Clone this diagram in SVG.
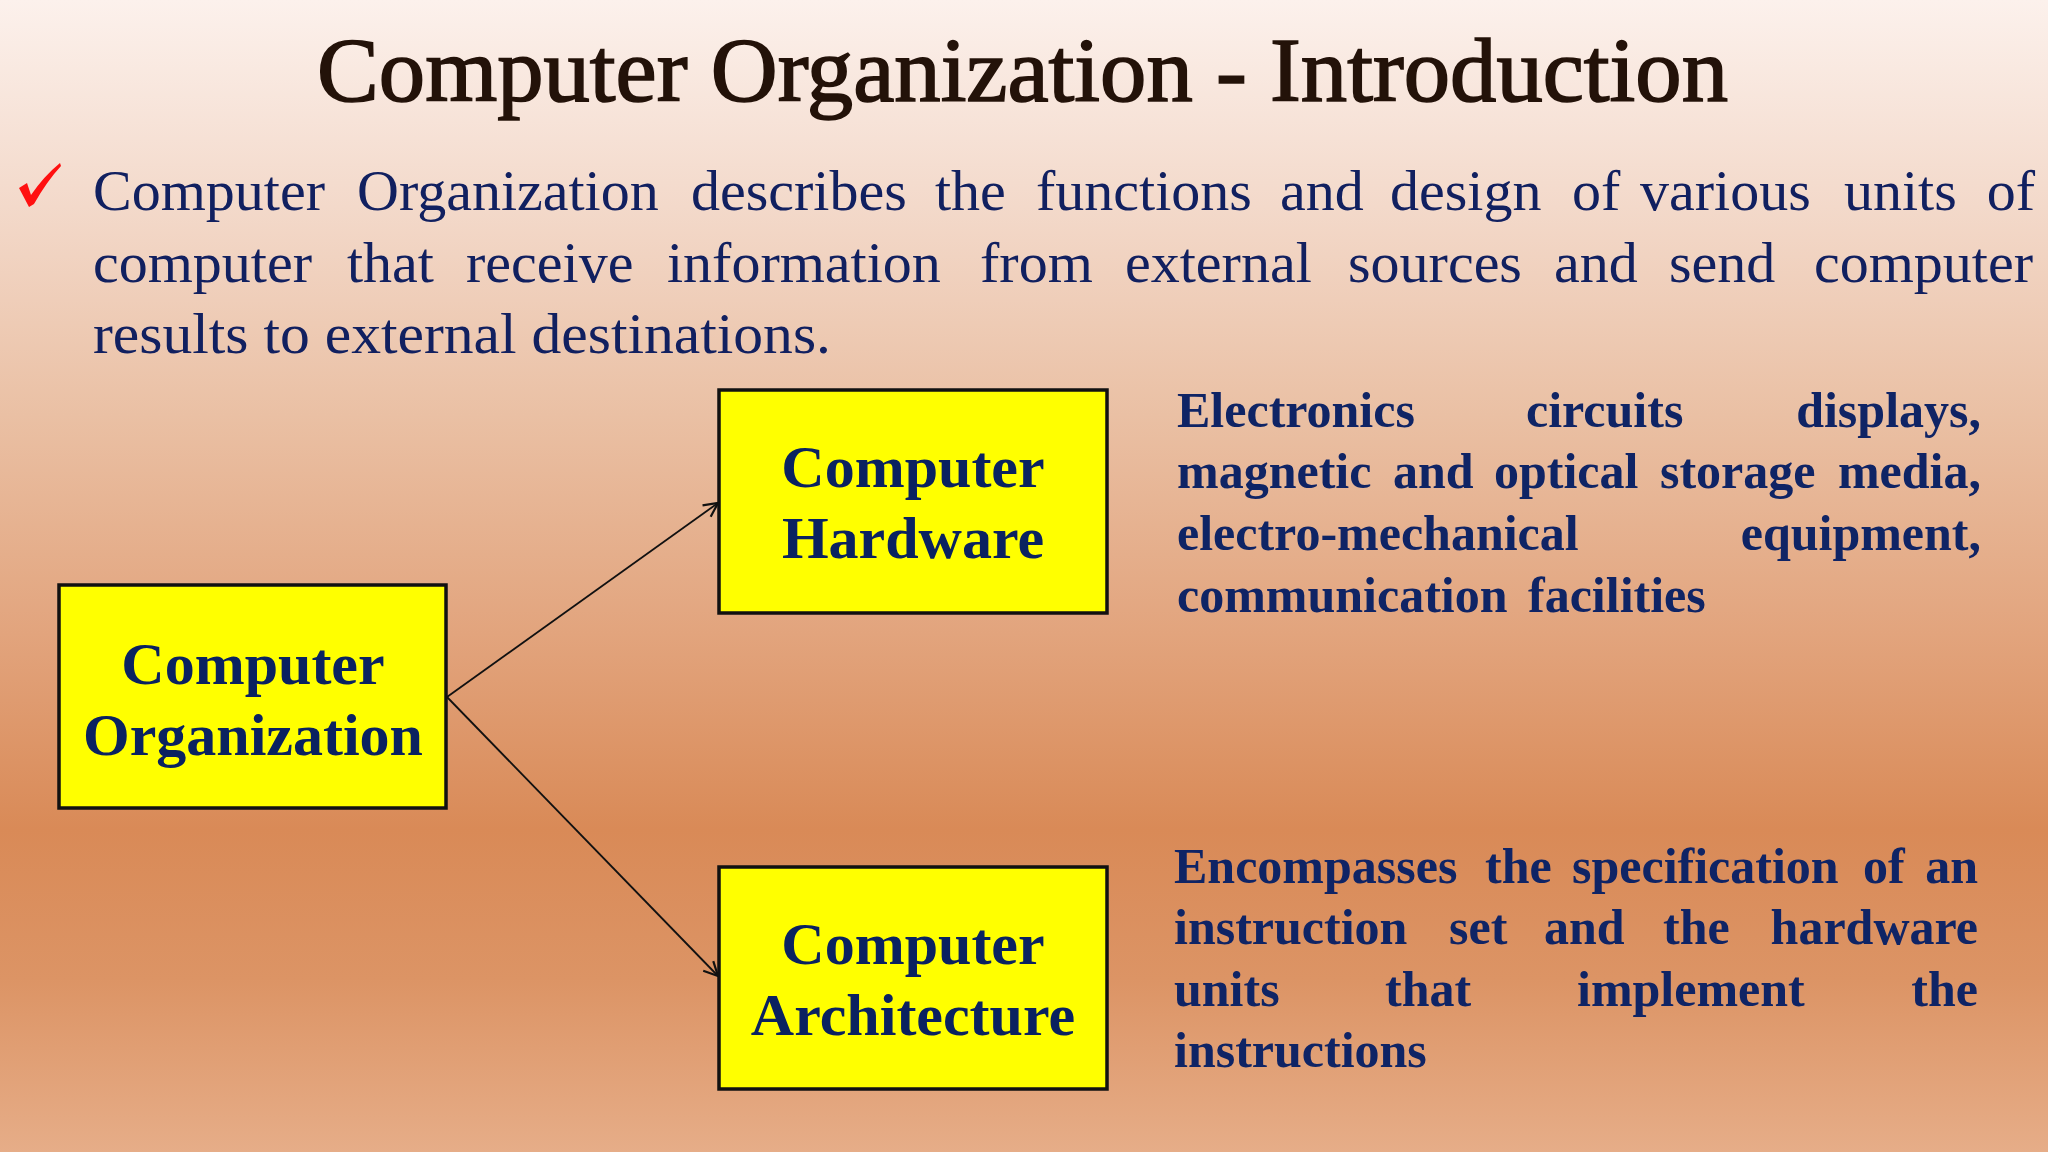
<svg xmlns="http://www.w3.org/2000/svg" width="2048" height="1152" viewBox="0 0 2048 1152">
<defs>
<linearGradient id="bg" x1="0" y1="0" x2="0" y2="1">
<stop offset="0" stop-color="#fcf1ec"/>
<stop offset="0.18" stop-color="#f3d9ca"/>
<stop offset="0.36" stop-color="#eac0a4"/>
<stop offset="0.55" stop-color="#e2a47d"/>
<stop offset="0.72" stop-color="#d98a57"/>
<stop offset="0.85" stop-color="#dc9465"/>
<stop offset="1" stop-color="#e6ad88"/>
</linearGradient>
<marker id="arr" markerWidth="20" markerHeight="20" refX="16" refY="10" orient="auto" markerUnits="userSpaceOnUse">
<path d="M2,3 L16,10 L2,17" fill="none" stroke="#111" stroke-width="2.2"/>
</marker>
<style>
.title{font-family:"Liberation Serif","Times New Roman",serif;font-size:90px;fill:#231209;stroke:#231209;stroke-width:1.6px;}
.body{font-family:"Liberation Serif","Times New Roman",serif;font-size:58px;fill:#112060;}
.box{fill:#ffff00;stroke:#111;stroke-width:3.5;}
.bt{font-family:"Liberation Serif","Times New Roman",serif;font-weight:bold;font-size:60px;fill:#0a2260;text-anchor:middle;}
.desc{font-family:"Liberation Serif","Times New Roman",serif;font-weight:bold;font-size:50px;fill:#0f2465;}
.conn{stroke:#111;stroke-width:1.8;fill:none;}
</style>
</defs>
<rect x="0" y="0" width="2048" height="1152" fill="url(#bg)"/>
<g id="title">
<text class="title" x="317" y="101" textLength="1411" lengthAdjust="spacingAndGlyphs">Computer Organization - Introduction</text>
</g>
<g id="bullet">
<path d="M19,188 L27,183 L31,195 Q44,176 60,163 L61,166 Q47,181 34,204 L29,207 Z" fill="#ff1010"/>
<text class="body" y="210">
<tspan x="93">Computer</tspan><tspan x="357">Organization</tspan><tspan x="691">describes</tspan><tspan x="935">the</tspan><tspan x="1036">functions</tspan><tspan x="1280">and</tspan><tspan x="1390">design</tspan><tspan x="1572">of</tspan><tspan x="1640">various</tspan><tspan x="1844">units</tspan>
</text>
<text class="body" y="210" x="2035" text-anchor="end">of</text>
<text class="body" y="282">
<tspan x="93">computer</tspan><tspan x="347">that</tspan><tspan x="466">receive</tspan><tspan x="667">information</tspan><tspan x="980">from</tspan><tspan x="1125">external</tspan><tspan x="1348">sources</tspan><tspan x="1554">and</tspan><tspan x="1669">send</tspan>
</text>
<text class="body" y="282" x="2033" text-anchor="end">computer</text>
<text class="body" x="93" y="353" textLength="738" lengthAdjust="spacingAndGlyphs">results to external destinations.</text>
</g>
<g id="connectors">
<line class="conn" x1="447" y1="697" x2="718" y2="503" marker-end="url(#arr)"/>
<line class="conn" x1="447" y1="697" x2="718" y2="976" marker-end="url(#arr)"/>
</g>
<g id="node-organization">
<rect class="box" x="59" y="585" width="387" height="223"/>
<text class="bt" x="253" y="684">Computer</text>
<text class="bt" x="253" y="755">Organization</text>
</g>
<g id="node-hardware">
<rect class="box" x="719" y="390" width="388" height="223"/>
<text class="bt" x="913" y="487">Computer</text>
<text class="bt" x="913" y="558">Hardware</text>
</g>
<g id="node-architecture">
<rect class="box" x="719" y="867" width="388" height="222"/>
<text class="bt" x="913" y="964">Computer</text>
<text class="bt" x="913" y="1035">Architecture</text>
</g>
<g id="hardware-desc">
<text class="desc" y="427"><tspan x="1177">Electronics</tspan><tspan x="1526">circuits</tspan></text>
<text class="desc" y="427" x="1981" text-anchor="end">displays,</text>
<text class="desc" y="488"><tspan x="1177">magnetic</tspan><tspan x="1393">and</tspan><tspan x="1494">optical</tspan><tspan x="1660">storage</tspan></text>
<text class="desc" y="488" x="1981" text-anchor="end">media,</text>
<text class="desc" y="550" x="1177">electro-mechanical</text>
<text class="desc" y="550" x="1981" text-anchor="end">equipment,</text>
<text class="desc" y="612"><tspan x="1177">communication</tspan><tspan x="1528">facilities</tspan></text>
</g>
<g id="architecture-desc">
<text class="desc" y="883"><tspan x="1174">Encompasses</tspan><tspan x="1485">the</tspan><tspan x="1572">specification</tspan><tspan x="1863">of</tspan></text>
<text class="desc" y="883" x="1978" text-anchor="end">an</text>
<text class="desc" y="944"><tspan x="1174">instruction</tspan><tspan x="1449">set</tspan><tspan x="1544">and</tspan><tspan x="1663">the</tspan></text>
<text class="desc" y="944" x="1978" text-anchor="end">hardware</text>
<text class="desc" y="1006"><tspan x="1174">units</tspan><tspan x="1385">that</tspan><tspan x="1577">implement</tspan></text>
<text class="desc" y="1006" x="1978" text-anchor="end">the</text>
<text class="desc" y="1067" x="1174">instructions</text>
</g>
</svg>
